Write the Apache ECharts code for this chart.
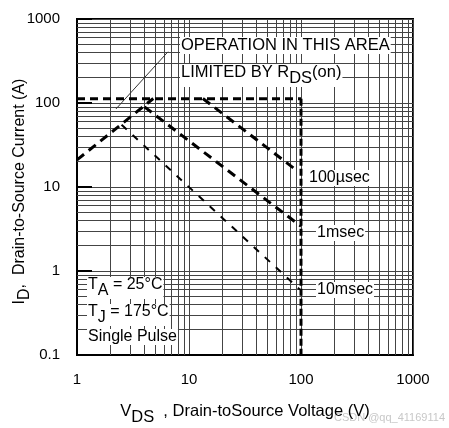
<!DOCTYPE html>
<html>
<head>
<meta charset="utf-8">
<script src="https://cdn.jsdelivr.net/npm/echarts@6/dist/echarts.min.js"></script>
<style>
  html, body { margin: 0; padding: 0; background: #fff; }
  #chart { width: 449px; height: 428px; }
</style>
</head>
<body>
<div id="chart"></div>
<script>
// decades on both log axes
var xDecades = [1, 10, 100, 1000];
var yDecades = [0.1, 1, 10, 100, 1000];

// safe operating area limits [V, A]
var rdsLimit = [[1, 21], [4.8, 113]];
var currentLimit = [[1, 112], [100, 112]];
var voltageLimit = [[100, 112], [100, 0.1]];
var pulse100us = [[13.3, 113], [90, 16]];
var pulse1ms = [[4, 90], [100, 3.4]];
var pulse10ms = [[2.5, 55], [98, 0.6]];
var pointerLine = [[2.23, 85], [6.5, 408]];

var font = '"Liberation Sans", Arial, sans-serif';
var black = "#000";
var gridColor = "#444";

// minor log grid lines (2..9 in every decade)
function minorLines(decades, key) {
  var out = [];
  for (var i = 0; i < decades.length - 1; i++) {
    for (var k = 2; k <= 9; k++) {
      var o = {};
      o[key] = +(decades[i] * k).toPrecision(3);
      out.push(o);
    }
  }
  return out;
}

function dashed(name, data, width, dash) {
  return {
    name: name,
    type: "line",
    data: data,
    symbol: "none",
    silent: true,
    z: 5,
    lineStyle: { color: black, width: width, type: dash, cap: "butt" }
  };
}

function richSet(size, drop) {
  return {
    n: { fontSize: size, fontFamily: font, color: black, fontWeight: "normal" },
    s: { fontSize: size, fontFamily: font, color: black, fontWeight: "normal", padding: [drop, 0, 0, 0] }
  };
}

// text boxes with white background, placed as title components
function label(x, y, text, size) {
  size = size || 16;
  return {
    text: text,
    left: x,
    top: y,
    padding: [0, 1],
    backgroundColor: "#fff",
    textStyle: { fontSize: size, fontFamily: font, color: black, fontWeight: "normal", rich: richSet(size, 12) }
  };
}

var chart = echarts.init(document.getElementById("chart"));
var option = {
  animation: false,
  backgroundColor: "#fff",
  title: [
    label(180, 37, "OPERATION IN THIS AREA", 16.5),
    label(180, 58, "{n|LIMITED BY R}{s|DS}{n|(on)}", 16.5),
    label(308, 170, "100µsec"),
    label(316, 225, "1msec"),
    label(316, 282, "10msec"),
    label(87, 271, "{n|T}{s|A}{n| = 25°C}"),
    label(87, 298, "{n|T}{s|J}{n| = 175°C}"),
    label(87, 329, "Single Pulse")
  ],
  grid: {
    left: 77,
    right: 36,
    top: 19,
    bottom: 73,
    outerBoundsMode: "none",
    containLabel: false,
    show: true,
    borderColor: black,
    borderWidth: 2
  },
  xAxis: {
    type: "log",
    logBase: 10,
    min: xDecades[0],
    max: xDecades[xDecades.length - 1],
    name: "{n|V}{s|DS}{n|  , Drain-toSource Voltage (V)}",
    nameLocation: "middle",
    nameGap: 42,
    nameMoveOverlap: false,
    nameTextStyle: { rich: richSet(16.5, 12), padding: [0, 0, 0, 0] },
    axisLine: { lineStyle: { color: black, width: 2 } },
    axisTick: { show: false },
    axisLabel: {
      color: black, fontSize: 15, fontFamily: font, margin: 17,
      formatter: function (v) { return String(v); }
    },
    splitLine: { show: true, lineStyle: { color: gridColor, width: 1 } }
  },
  yAxis: {
    type: "log",
    logBase: 10,
    min: yDecades[0],
    max: yDecades[yDecades.length - 1],
    name: "{n|I}{s|D}{n|,  Drain-to-Source Current (A)}",
    nameLocation: "middle",
    nameRotate: 90,
    nameGap: 44,
    nameMoveOverlap: false,
    nameTextStyle: { rich: richSet(16, 11), padding: [0, 9, 0, 0] },
    axisLine: { lineStyle: { color: black, width: 2 } },
    axisTick: { show: true, inside: true, length: 15, lineStyle: { color: black, width: 2 } },
    axisLabel: {
      color: black, fontSize: 15, fontFamily: font, margin: 17,
      formatter: function (v) { return String(v); }
    },
    splitLine: { show: true, lineStyle: { color: gridColor, width: 1 } }
  },
  series: [
    {
      name: "grid",
      type: "line",
      data: [[1, 0.1]],
      symbol: "none",
      silent: true,
      z: 1,
      lineStyle: { width: 0 },
      markLine: {
        silent: true,
        symbol: "none",
        label: { show: false },
        lineStyle: { color: gridColor, width: 1, type: "solid" },
        data: minorLines(xDecades, "xAxis").concat(minorLines(yDecades, "yAxis"))
      }
    },
    dashed("RDS(on)", rdsLimit, 3, [9, 6]),
    dashed("current", currentLimit, 3, [8, 5]),
    dashed("voltage", voltageLimit, 3, [7, 3]),
    dashed("100µsec", pulse100us, 3, [9, 6]),
    dashed("1msec", pulse1ms, 3, [9, 6]),
    dashed("10msec", pulse10ms, 2, [7, 8]),
    {
      name: "pointer",
      type: "line",
      data: pointerLine,
      symbol: "none",
      silent: true,
      z: 6,
      lineStyle: { color: "#333", width: 1 }
    }
  ],
  graphic: [
    {
      type: "text",
      right: 4,
      bottom: 5,
      style: { text: "CSDN @qq_41169114", font: "11px " + font, fill: "#c8c8c8" }
    }
  ]
};
chart.setOption(option);
</script>
</body>
</html>
